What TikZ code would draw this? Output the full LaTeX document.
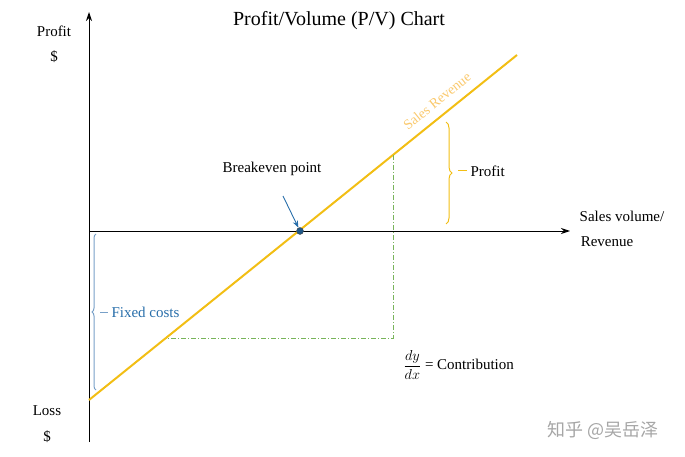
\documentclass[tikz,border=0pt]{standalone}
\usepackage{fontspec}
\setmainfont{Liberation Serif}
\newfontfamily\cjk{Noto Sans CJK SC}
\usetikzlibrary{arrows.meta,decorations.pathreplacing}
\definecolor{rev}{RGB}{242,190,20}
\definecolor{dgreen}{RGB}{120,180,90}
\definecolor{fblue}{RGB}{40,110,170}
\definecolor{bblue}{RGB}{120,160,200}
\tikzset{lbl/.style={font=\fontsize{15}{17}\selectfont},
axis/.style={-{Stealth[length=9pt,width=6pt]},line width=1pt}}
\begin{document}
\begin{tikzpicture}[x=1pt,y=-1pt]
\useasboundingbox (0,0) rectangle (685,457);
\coordinate (o) at (89,231);
\coordinate (ytop) at (89,12);
\coordinate (ybot) at (89,442);
\coordinate (xend) at (570,231);
\draw[axis] (ybot) -- (ytop);
\draw[axis] (o) -- (xend);
\coordinate (r0) at (89,400);
\coordinate (r1) at (517,55);
\draw[rev,line width=2pt] (r0) -- (r1);
\coordinate (d1) at (393,155);
\coordinate (d2) at (393,338);
\coordinate (d3) at (166,338);
\draw[dgreen,dash pattern=on 5pt off 2pt on 1pt off 2pt,line width=0.7pt] (d1) -- (d2) -- (d3);
\draw[rev,line width=1pt,decorate,decoration={brace,amplitude=6pt}] (446,122) -- (446,224);
\node[lbl,anchor=west] (profit) at (467,171) {Profit};
\draw[rev,line width=1pt] (458,171) -- (profit.west);
\draw[bblue,line width=1pt,decorate,decoration={brace,amplitude=4pt,mirror}] (96,234) -- (96,390);
\node[lbl,anchor=west,text=fblue] (fc) at (108,312) {Fixed costs};
\draw[bblue,line width=1pt] (100,312) -- (fc.west);
\node[circle,fill=fblue!80!black,draw=black!70,inner sep=0pt,minimum size=7pt] (be) at (300,231) {};
\node[lbl] (bel) at (272,169) {Breakeven point};
\draw[fblue,-{Stealth[length=7pt]},line width=0.9pt] (283,196) -- (be);
\node[font=\fontsize{14}{16}\selectfont,text=rev!60!orange!60,rotate=38.9] (sr) at (437,101) {Sales Revenue};
\node[font=\fontsize{20}{22}\selectfont] (title) at (339,21) {Profit/Volume (P/V) Chart};
\node[lbl] (p1) at (54,31) {Profit};
\node[lbl] (p2) at (54,57) {\$};
\node[lbl] (l1) at (47,411) {Loss};
\node[lbl] (l2) at (47,437) {\$};
\node[lbl] (sv) at (622,216) {Sales volume/};
\node[lbl] (sv2) at (607,242) {Revenue};
\node[lbl,anchor=west] (form) at (400,365) {$\displaystyle\frac{dy}{dx}$ = Contribution};
\node[font=\cjk\fontsize{18}{20}\selectfont,text=black!35] (wm) at (603,430) {知乎 @吴岳泽};
\end{tikzpicture}
\end{document}
